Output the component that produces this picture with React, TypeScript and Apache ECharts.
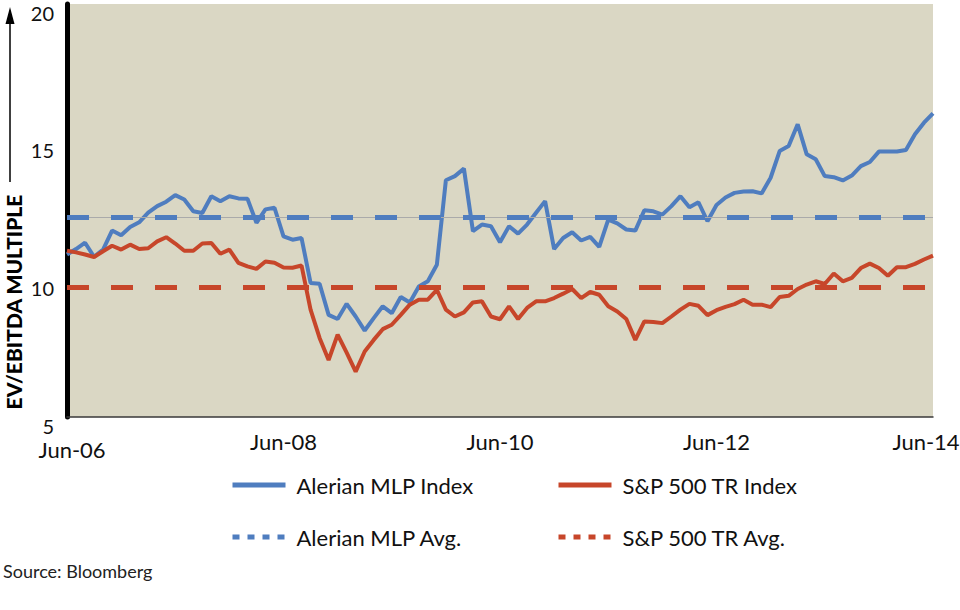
import React, { useEffect, useRef } from 'react';
import * as echarts from 'echarts';

// monthly, Jun-06 .. Jun-14
const monthNames = ['Jun', 'Jul', 'Aug', 'Sep', 'Oct', 'Nov', 'Dec', 'Jan', 'Feb', 'Mar', 'Apr', 'May'];
const startYear = 6;
const monthCount = 97;

const categories: string[] = [];
for (let i = 0; i < monthCount; i++) {
  const yr = startYear + Math.floor((i + 5) / 12);
  categories.push(`${monthNames[i % 12]}-${String(yr).padStart(2, '0')}`);
}

const mlpIndex = [
  10.9, 11.1, 11.33, 10.82, 11.08, 11.77, 11.6, 11.9, 12.07, 12.42, 12.66, 12.82,
  13.06, 12.9, 12.47, 12.41, 13.02, 12.84, 13.02, 12.94, 12.93, 12.05, 12.54, 12.6,
  11.56, 11.44, 11.5, 9.87, 9.84, 8.71, 8.56, 9.11, 8.65, 8.14, 8.59, 9.02,
  8.77, 9.36, 9.16, 9.74, 9.93, 10.53, 13.6, 13.75, 14.02, 11.75, 11.99, 11.93,
  11.35, 11.93, 11.66, 11.99, 12.42, 12.84, 11.1, 11.5, 11.71, 11.41, 11.54, 11.18,
  12.17, 12.03, 11.81, 11.77, 12.51, 12.47, 12.35, 12.66, 13.02, 12.62, 12.8, 12.11,
  12.7, 12.97, 13.14, 13.19, 13.2, 13.12, 13.69, 14.66, 14.84, 15.63, 14.54, 14.36,
  13.75, 13.71, 13.59, 13.77, 14.11, 14.26, 14.64, 14.64, 14.64, 14.7, 15.27, 15.69,
  16.03
];

const spIndex = [
  11.04, 10.98, 10.9, 10.81, 11.02, 11.22, 11.08, 11.26, 11.1, 11.13, 11.38, 11.53,
  11.3, 11.04, 11.04, 11.3, 11.32, 10.93, 11.08, 10.6, 10.47, 10.38, 10.65, 10.6,
  10.43, 10.42, 10.5, 8.9, 7.87, 7.07, 7.99, 7.34, 6.65, 7.38, 7.8, 8.19,
  8.35, 8.71, 9.08, 9.26, 9.26, 9.62, 8.9, 8.65, 8.8, 9.16, 9.2, 8.65,
  8.55, 9.02, 8.56, 8.96, 9.2, 9.2, 9.32, 9.48, 9.65, 9.32, 9.54, 9.44,
  9.02, 8.83, 8.56, 7.8, 8.47, 8.45, 8.41, 8.65, 8.9, 9.11, 9.04, 8.7,
  8.88, 9.0, 9.1, 9.26, 9.08, 9.08, 8.99, 9.36, 9.4, 9.65, 9.81, 9.93,
  9.83, 10.21, 9.93, 10.05, 10.41, 10.57, 10.41, 10.13, 10.44, 10.44, 10.56, 10.72,
  10.86
];

const mlpAvg = 12.24;
const spAvg = 9.7;

const BLUE = '#4f7dbf';
const RED = '#c7462a';
const FONT = 'Lato, "Open Sans", sans-serif';

const App: React.FC = () => {
  const chartRef = useRef<HTMLDivElement>(null);

  useEffect(() => {
    if (!chartRef.current) return;
    const chart = echarts.init(chartRef.current, undefined, { renderer: 'svg' });

    const legendBase = {
      orient: 'horizontal',
      padding: 0,
      itemWidth: 53,
      itemHeight: 14,
      itemGap: 0,
      selectedMode: false,
      itemStyle: { opacity: 0 },
      formatter: (name: string) => `{t|${name}}`,
      textStyle: {
        fontSize: 22,
        color: '#111',
        fontFamily: FONT,
        lineHeight: 26,
        rich: { t: { fontSize: 22, color: '#111', fontFamily: FONT, padding: [0, 0, 0, 6] } }
      }
    };

    const option: any = {
      animation: false,
      backgroundColor: '#fff',
      grid: {
        left: 67,
        right: 27,
        top: 4,
        bottom: 193,
        show: true,
        backgroundColor: '#dad7c4',
        borderWidth: 0,
        outerBoundsMode: 'none'
      },
      xAxis: {
        type: 'category',
        data: categories,
        boundaryGap: false,
        axisLine: { lineStyle: { color: '#3a3a3a', width: 1.5 } },
        axisTick: { show: false },
        splitLine: { show: false },
        axisLabel: {
          interval: 23,
          margin: 14,
          fontSize: 22,
          lineHeight: 20,
          color: '#111',
          fontFamily: FONT,
          formatter: (value: string, index: number) => {
            if (index === 0) return `{first|${value}}`;
            if (index === monthCount - 1) return `{last|${value}}`;
            return value;
          },
          rich: {
            first: { fontSize: 22, lineHeight: 20, color: '#111', fontFamily: FONT, padding: [16, 0, 0, 10] },
            last: { fontSize: 22, lineHeight: 20, color: '#111', fontFamily: FONT, padding: [0, 14, 0, 0] }
          }
        }
      },
      yAxis: {
        type: 'value',
        min: 5,
        max: 20,
        interval: 5,
        axisLine: { show: true, lineStyle: { color: '#000', width: 5 } },
        axisTick: { show: false },
        splitLine: { show: false },
        axisLabel: {
          margin: 13,
          fontSize: 20,
          color: '#111',
          fontFamily: FONT,
          verticalAlign: 'top',
          lineHeight: 17
        }
      },
      legend: [
        { ...legendBase, left: 230, top: 472, data: [{ name: 'Alerian MLP Index', lineStyle: { width: 5 } }] },
        { ...legendBase, left: 556, top: 472, data: [{ name: 'S&P 500 TR Index', lineStyle: { width: 5 } }] },
        { ...legendBase, left: 230, top: 524, data: [{ name: 'Alerian MLP Avg.', lineStyle: { width: 5, type: [7, 8] } }] },
        { ...legendBase, left: 556, top: 524, data: [{ name: 'S&P 500 TR Avg.', lineStyle: { width: 5, type: [7, 8] } }] }
      ],
      graphic: [
        {
          type: 'line',
          shape: { x1: 10, y1: 182, x2: 10, y2: 20 },
          style: { stroke: '#000', lineWidth: 1.5 }
        },
        {
          type: 'polygon',
          shape: { points: [[10, 7], [5.5, 24], [14.5, 24]] },
          style: { fill: '#000' }
        },
        {
          type: 'text',
          x: 13,
          y: 302,
          rotation: Math.PI / 2,
          style: {
            text: 'EV/EBITDA MULTIPLE',
            fontSize: 21,
            fontWeight: 900,
            fontFamily: FONT,
            fill: '#000',
            align: 'center',
            verticalAlign: 'middle'
          }
        },
        {
          type: 'text',
          left: 3,
          top: 562,
          style: {
            text: 'Source: Bloomberg',
            fontSize: 18,
            fontFamily: FONT,
            fill: '#222'
          }
        }
      ],
      series: [
        {
          name: 'Alerian MLP Avg.',
          type: 'line',
          data: [],
          symbol: 'none',
          itemStyle: { color: BLUE },
          lineStyle: { color: BLUE, width: 5, type: [7, 8] },
          markLine: {
            silent: true,
            symbol: ['none', 'none'],
            label: { show: false },
            data: [
              { yAxis: mlpAvg, lineStyle: { color: '#aaaaaa', width: 1, type: 'solid' } },
              { yAxis: mlpAvg, lineStyle: { color: BLUE, width: 5, type: [22, 22] } }
            ]
          }
        },
        {
          name: 'S&P 500 TR Avg.',
          type: 'line',
          data: [],
          symbol: 'none',
          itemStyle: { color: RED },
          lineStyle: { color: RED, width: 5, type: [7, 8] },
          markLine: {
            silent: true,
            symbol: ['none', 'none'],
            label: { show: false },
            data: [
              { yAxis: spAvg, lineStyle: { color: RED, width: 5, type: [22, 22] } }
            ]
          }
        },
        {
          name: 'Alerian MLP Index',
          type: 'line',
          data: mlpIndex,
          symbol: 'none',
          itemStyle: { color: BLUE },
          lineStyle: { color: BLUE, width: 4 }
        },
        {
          name: 'S&P 500 TR Index',
          type: 'line',
          data: spIndex,
          symbol: 'none',
          itemStyle: { color: RED },
          lineStyle: { color: RED, width: 4 }
        }
      ]
    };

    chart.setOption(option);

    return () => {
      chart.dispose();
    };
  }, []);

  return (
    <div
      ref={chartRef}
      style={{ position: 'absolute', left: 0, top: 0, width: 960, height: 610 }}
    />
  );
};

export default App;
